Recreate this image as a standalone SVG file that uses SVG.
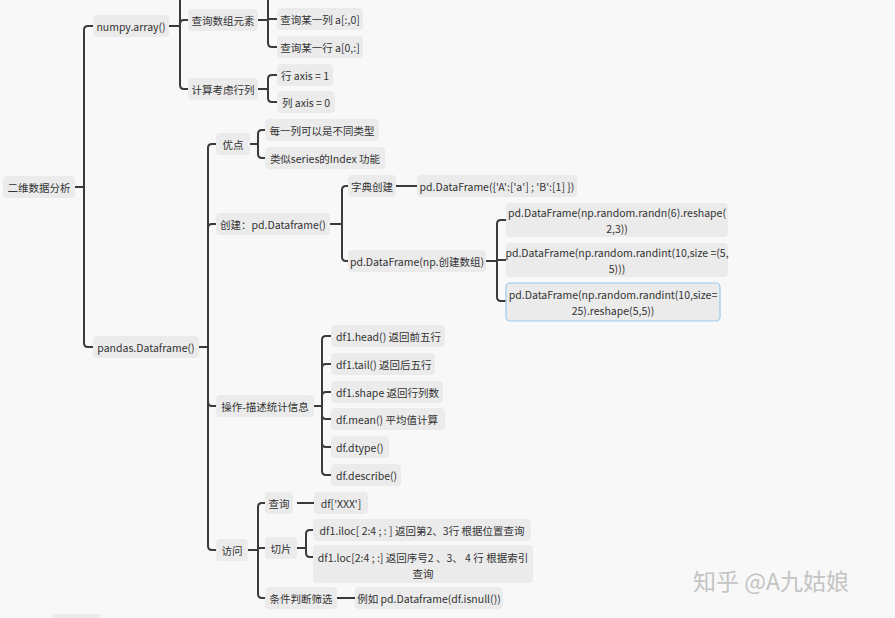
<svg xmlns="http://www.w3.org/2000/svg" width="895" height="618" viewBox="0 0 895 618">
<style>
.n rect{fill:#ebebeb;rx:4px}
.n text{font-family:"Noto Sans CJK SC","Noto Sans",sans-serif;font-size:10.5px;fill:#333;dominant-baseline:central}
.c path{fill:none;stroke:#3a3a3a;stroke-width:2}
</style>
<rect width="895" height="618" fill="#f8f8f8"/>
<g class="c">
<path d="M75,187 H84 M84,187 V30 Q84,26 88,26 H93 M84,187 V343 Q84,347 88,347 H93"/>
<path d="M169,26 H180 M180,26 V0 M180,26 V24 Q180,20 184,20 H188 M180,26 V85 Q180,89 184,89 H188"/>
<path d="M258,20 H268 M268,20 V0 M268,20 V19 H277 M268,20 V43 Q268,47 272,47 H277"/>
<path d="M258,89 H268 M268,89 V79 Q268,75 272,75 H277 M268,89 V98 Q268,102 272,102 H277"/>
<path d="M199,347 H208 M208,347 V148 Q208,144 212,144 H216 M208,347 V228 Q208,224 212,224 H216 M208,347 V402 Q208,406 212,406 H216 M208,347 V546 Q208,550 212,550 H216"/>
<path d="M250,144 H258 M258,144 V134 Q258,130 262,130 H265 M258,144 V154 Q258,158 262,158 H265"/>
<path d="M330,224 H342 M342,224 V190 Q342,186 346,186 H348 M342,224 V257 Q342,261 346,261 H348 M396,186 H417"/>
<path d="M486,261 H497 M497,261 V224 Q497,220 501,220 H506 M497,261 V260 H506 M497,261 V297 Q497,301 501,301 H506"/>
<path d="M314,406 H322 M322,406 V340 Q322,336 326,336 H331 M322,406 V368 Q322,364 326,364 H331 M322,406 V396 Q322,392 326,392 H331 M322,406 V415 Q322,419 326,419 H331 M322,406 V443 Q322,447 326,447 H331 M322,406 V471 Q322,475 326,475 H331"/>
<path d="M248,550 H258 M258,550 V507 Q258,503 262,503 H265 M258,550 V548 H265 M258,550 V594 Q258,598 262,598 H265"/>
<path d="M297,503 H314 M297,548 H306 M306,548 V534 Q306,530 310,530 H313 M306,548 V553 Q306,557 310,557 H313 M337,598 H355"/>
</g>
<g class="n" id="root"><rect x="3" y="176" width="72" height="22"/><text x="39" y="187" text-anchor="middle">二维数据分析</text></g>
<g class="n" id="numpy"><rect x="93" y="15" width="76" height="22"/><text x="131" y="26" text-anchor="middle">numpy.array()</text></g>
<g class="n" id="pandas"><rect x="93" y="336" width="106" height="22"/><text x="146" y="347" text-anchor="middle">pandas.Dataframe()</text></g>
<g class="n" id="q1"><rect x="188" y="9" width="70" height="22"/><text x="223" y="20" text-anchor="middle">查询数组元素</text></g>
<g class="n" id="q2"><rect x="188" y="78" width="70" height="22"/><text x="223" y="89" text-anchor="middle">计算考虑行列</text></g>
<g class="n" id="q1a"><rect x="277" y="8" width="86" height="22"/><text x="320" y="19" text-anchor="middle">查询某一列 a[:,0]</text></g>
<g class="n" id="q1b"><rect x="277" y="36" width="86" height="22"/><text x="320" y="47" text-anchor="middle">查询某一行 a[0,:]</text></g>
<g class="n" id="q2a"><rect x="277" y="64" width="56" height="22"/><text x="305" y="75" text-anchor="middle">行 axis = 1</text></g>
<g class="n" id="q2b"><rect x="277" y="91" width="58" height="22"/><text x="306" y="102" text-anchor="middle">列 axis = 0</text></g>
<g class="n" id="adv"><rect x="216" y="133" width="34" height="22"/><text x="233" y="144" text-anchor="middle">优点</text></g>
<g class="n" id="adv1"><rect x="265" y="119" width="114" height="22"/><text x="322" y="130" text-anchor="middle">每一列可以是不同类型</text></g>
<g class="n" id="adv2"><rect x="265" y="147" width="120" height="22"/><text x="325" y="158" text-anchor="middle">类似series的Index 功能</text></g>
<g class="n" id="create"><rect x="216" y="213" width="114" height="22"/><text x="273" y="224" text-anchor="middle">创建：pd.Dataframe()</text></g>
<g class="n" id="dict"><rect x="348" y="175" width="48" height="22"/><text x="372" y="186" text-anchor="middle">字典创建</text></g>
<g class="n" id="dict1"><rect x="417" y="175" width="160" height="22"/><text x="497" y="186" text-anchor="middle">pd.DataFrame({'A':['a'] ; 'B':[1] })</text></g>
<g class="n" id="nparr"><rect x="348" y="250" width="138" height="22"/><text x="417" y="261" text-anchor="middle">pd.DataFrame(np.创建数组)</text></g>
<g class="n" id="np1"><rect x="506" y="203" width="222" height="34"/><text x="617" y="212" text-anchor="middle">pd.DataFrame(np.random.randn(6).reshape(</text><text x="617" y="228" text-anchor="middle">2,3))</text></g>
<g class="n" id="np2"><rect x="506" y="243" width="222" height="34"/><text x="617" y="252" text-anchor="middle">pd.DataFrame(np.random.randint(10,size =(5,</text><text x="617" y="268" text-anchor="middle">5)))</text></g>
<g class="n" id="np3"><rect x="506" y="283" width="214" height="38" style="stroke:#9ccbec;stroke-width:1.2"/><text x="613" y="294" text-anchor="middle">pd.DataFrame(np.random.randint(10,size=</text><text x="613" y="310" text-anchor="middle">25).reshape(5,5))</text></g>
<g class="n" id="ops"><rect x="216" y="395" width="98" height="22"/><text x="265" y="406" text-anchor="middle">操作-描述统计信息</text></g>
<g class="n" id="o1"><rect x="331" y="325" width="114" height="22"/><text x="336" y="336">df1.head()  返回前五行</text></g>
<g class="n" id="o2"><rect x="331" y="353" width="104" height="22"/><text x="336" y="364">df1.tail()  返回后五行</text></g>
<g class="n" id="o3"><rect x="331" y="381" width="112" height="22"/><text x="336" y="392">df1.shape  返回行列数</text></g>
<g class="n" id="o4"><rect x="331" y="408" width="114" height="22"/><text x="336" y="419">df.mean()  平均值计算</text></g>
<g class="n" id="o5"><rect x="331" y="436" width="58" height="22"/><text x="336" y="447">df.dtype()</text></g>
<g class="n" id="o6"><rect x="331" y="464" width="70" height="22"/><text x="336" y="475">df.describe()</text></g>
<g class="n" id="acc"><rect x="216" y="539" width="32" height="22"/><text x="232" y="550" text-anchor="middle">访问</text></g>
<g class="n" id="a1"><rect x="265" y="492" width="28" height="22"/><text x="279" y="503" text-anchor="middle">查询</text></g>
<g class="n" id="a1a"><rect x="314" y="492" width="54" height="22"/><text x="341" y="503" text-anchor="middle">df['XXX']</text></g>
<g class="n" id="a2"><rect x="265" y="537" width="32" height="22"/><text x="281" y="548" text-anchor="middle">切片</text></g>
<g class="n" id="a2a"><rect x="313" y="519" width="218" height="22"/><text x="422" y="530" text-anchor="middle">df1.iloc[ 2:4 ; : ]  返回第2、3行  根据位置查询</text></g>
<g class="n" id="a2b"><rect x="313" y="545" width="220" height="38"/><text x="423" y="557" text-anchor="middle">df1.loc[2:4 ; :]  返回序号2 、3、 4 行  根据索引</text><text x="423" y="573" text-anchor="middle">查询</text></g>
<g class="n" id="a3"><rect x="265" y="587" width="72" height="22"/><text x="301" y="598" text-anchor="middle">条件判断筛选</text></g>
<g class="n" id="a3a"><rect x="355" y="587" width="148" height="22"/><text x="429" y="598" text-anchor="middle">例如 pd.Dataframe(df.isnull())</text></g>
<rect x="53" y="614" width="48" height="6" fill="#ebebeb"/>
<text x="693" y="590" font-family="Noto Sans CJK SC,sans-serif" font-size="23" fill="#c4c4c4">知乎 @A九姑娘</text>
</svg>
